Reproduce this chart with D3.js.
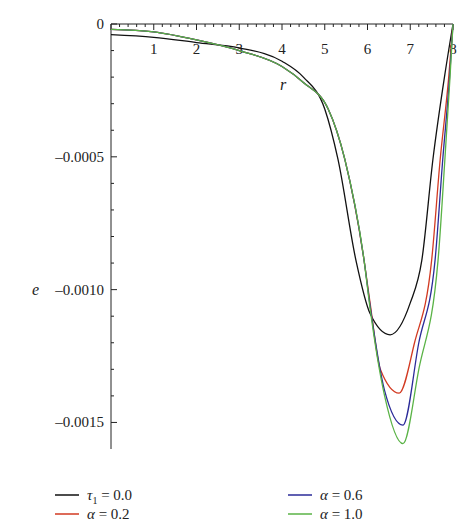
<!DOCTYPE html>
<html><head><meta charset="utf-8">
<script src="https://cdn.jsdelivr.net/npm/d3@7"></script>
<style>body{margin:0;background:#fff}text{font-family:"Liberation Serif",serif;fill:#222}</style>
</head><body><svg id="c" width="474" height="526"></svg>
<script>
var labels = ["τ1 = 0.0", "α = 0.2", "α = 0.6", "α = 1.0"];
var colors = ["#111111", "#d23a22", "#2b2b99", "#5ab346"];
var rVals = [
  [0,1,2,3,4,4.5,5,5.31,5.73,6.06,6.53,7,7.27,7.53,7.8,8],
  [0,1,2,3,4,4.5,5.08,5.47,5.92,6.06,6.3,6.74,7.1,7.5,7.7,7.9,8],
  [0,1,2,3,4,4.5,5.08,5.47,5.92,6.06,6.4,6.83,7.2,7.58,7.76,7.92,8],
  [0,1,2,3,4,4.5,5.08,5.47,5.92,6.06,6.4,6.83,7.2,7.65,7.81,7.93,8]
];
var eVals = [
  [-0.00004,-0.00005,-0.00007,-0.00009,-0.00014,-0.0002,-0.00032,-0.00051,-0.00089,-0.00109,-0.00117,-0.00105,-0.00089,-0.00051,-0.0002,0],
  [-0.00002,-0.00003,-0.00006,-0.0001,-0.00016,-0.00022,-0.00032,-0.00051,-0.00089,-0.00105,-0.0013,-0.00139,-0.0012,-0.00089,-0.00051,-0.0002,0],
  [-0.00002,-0.00003,-0.00006,-0.0001,-0.00016,-0.00022,-0.00032,-0.00051,-0.00089,-0.00106,-0.00138,-0.00151,-0.0012,-0.00089,-0.00051,-0.0002,0],
  [-0.00002,-0.00003,-0.00006,-0.0001,-0.00016,-0.00022,-0.00032,-0.00051,-0.00089,-0.00107,-0.0014,-0.00158,-0.0013,-0.00089,-0.00051,-0.0002,0]
];
var yTicks = [0, -0.0005, -0.0010, -0.0015];
var yTickLabels = ["0", "–0.0005", "–0.0010", "–0.0015"];

var svg = d3.select("#c");
var x = d3.scaleLinear().domain([0,8]).range([111,453]);
var y = d3.scaleLinear().domain([0,-0.0016]).range([24,449]);

// top axis at e = 0
var xa = svg.append("g").attr("transform","translate(0,24)");
xa.append("line").attr("x1",x(0)).attr("x2",x(8)).attr("stroke","#222");
xa.selectAll(".m").data(d3.range(0,8.01,0.2)).enter().append("line")
  .attr("x1",d=>x(d)).attr("x2",d=>x(d)).attr("y1",0).attr("y2",d=>Math.abs(d-Math.round(d))<1e-6?6:3).attr("stroke","#222");
xa.selectAll("text").data(d3.range(1,9)).enter().append("text")
  .attr("x",d=>x(d)).attr("y",30).attr("text-anchor","middle").attr("font-size",15).text(d=>d);

// left axis
var ya = svg.append("g");
ya.append("line").attr("x1",x(0)).attr("x2",x(0)).attr("y1",y(0)).attr("y2",y(-0.0016)).attr("stroke","#222");
ya.selectAll(".m").data(d3.range(0,16)).enter().append("line")
  .attr("x1",x(0)).attr("x2",d=>x(0)+(d%5==0?6:3)).attr("y1",d=>y(-d*0.0001)).attr("y2",d=>y(-d*0.0001)).attr("stroke","#222");
ya.selectAll("text").data(yTicks).enter().append("text")
  .attr("x",104).attr("y",d=>y(d)+5).attr("text-anchor","end").attr("font-size",15)
  .text((d,i)=>yTickLabels[i]);

svg.append("text").attr("x",280).attr("y",90).attr("font-style","italic").attr("font-size",16).text("r");
svg.append("text").attr("x",32).attr("y",295).attr("font-style","italic").attr("font-size",16).text("e");

var line = d3.line().curve(d3.curveMonotoneX);
rVals.forEach(function(rs,i){
  svg.append("path").attr("d",line(rs.map((r,j)=>[x(r),y(eVals[i][j])])))
    .attr("fill","none").attr("stroke",colors[i]).attr("stroke-width",1.3);
});

// legend
[0,1,2,3].forEach(function(i){
  var p = [[55,495],[55,514],[288,495],[288,514]][i];
  svg.append("line").attr("x1",p[0]).attr("x2",p[0]+24).attr("y1",p[1]).attr("y2",p[1]).attr("stroke",colors[i]).attr("stroke-width",1.5);
  var t = svg.append("text").attr("x",p[0]+32).attr("y",p[1]+5).attr("font-size",15);
  if(i==0){t.append("tspan").attr("font-style","italic").text("τ");t.append("tspan").attr("font-size",10).attr("dy",4).text("1");t.append("tspan").attr("dy",-4).text(" = 0.0");}
  else {t.append("tspan").attr("font-style","italic").text("α");t.append("tspan").text(labels[i].slice(1));}
});
</script></body></html>
